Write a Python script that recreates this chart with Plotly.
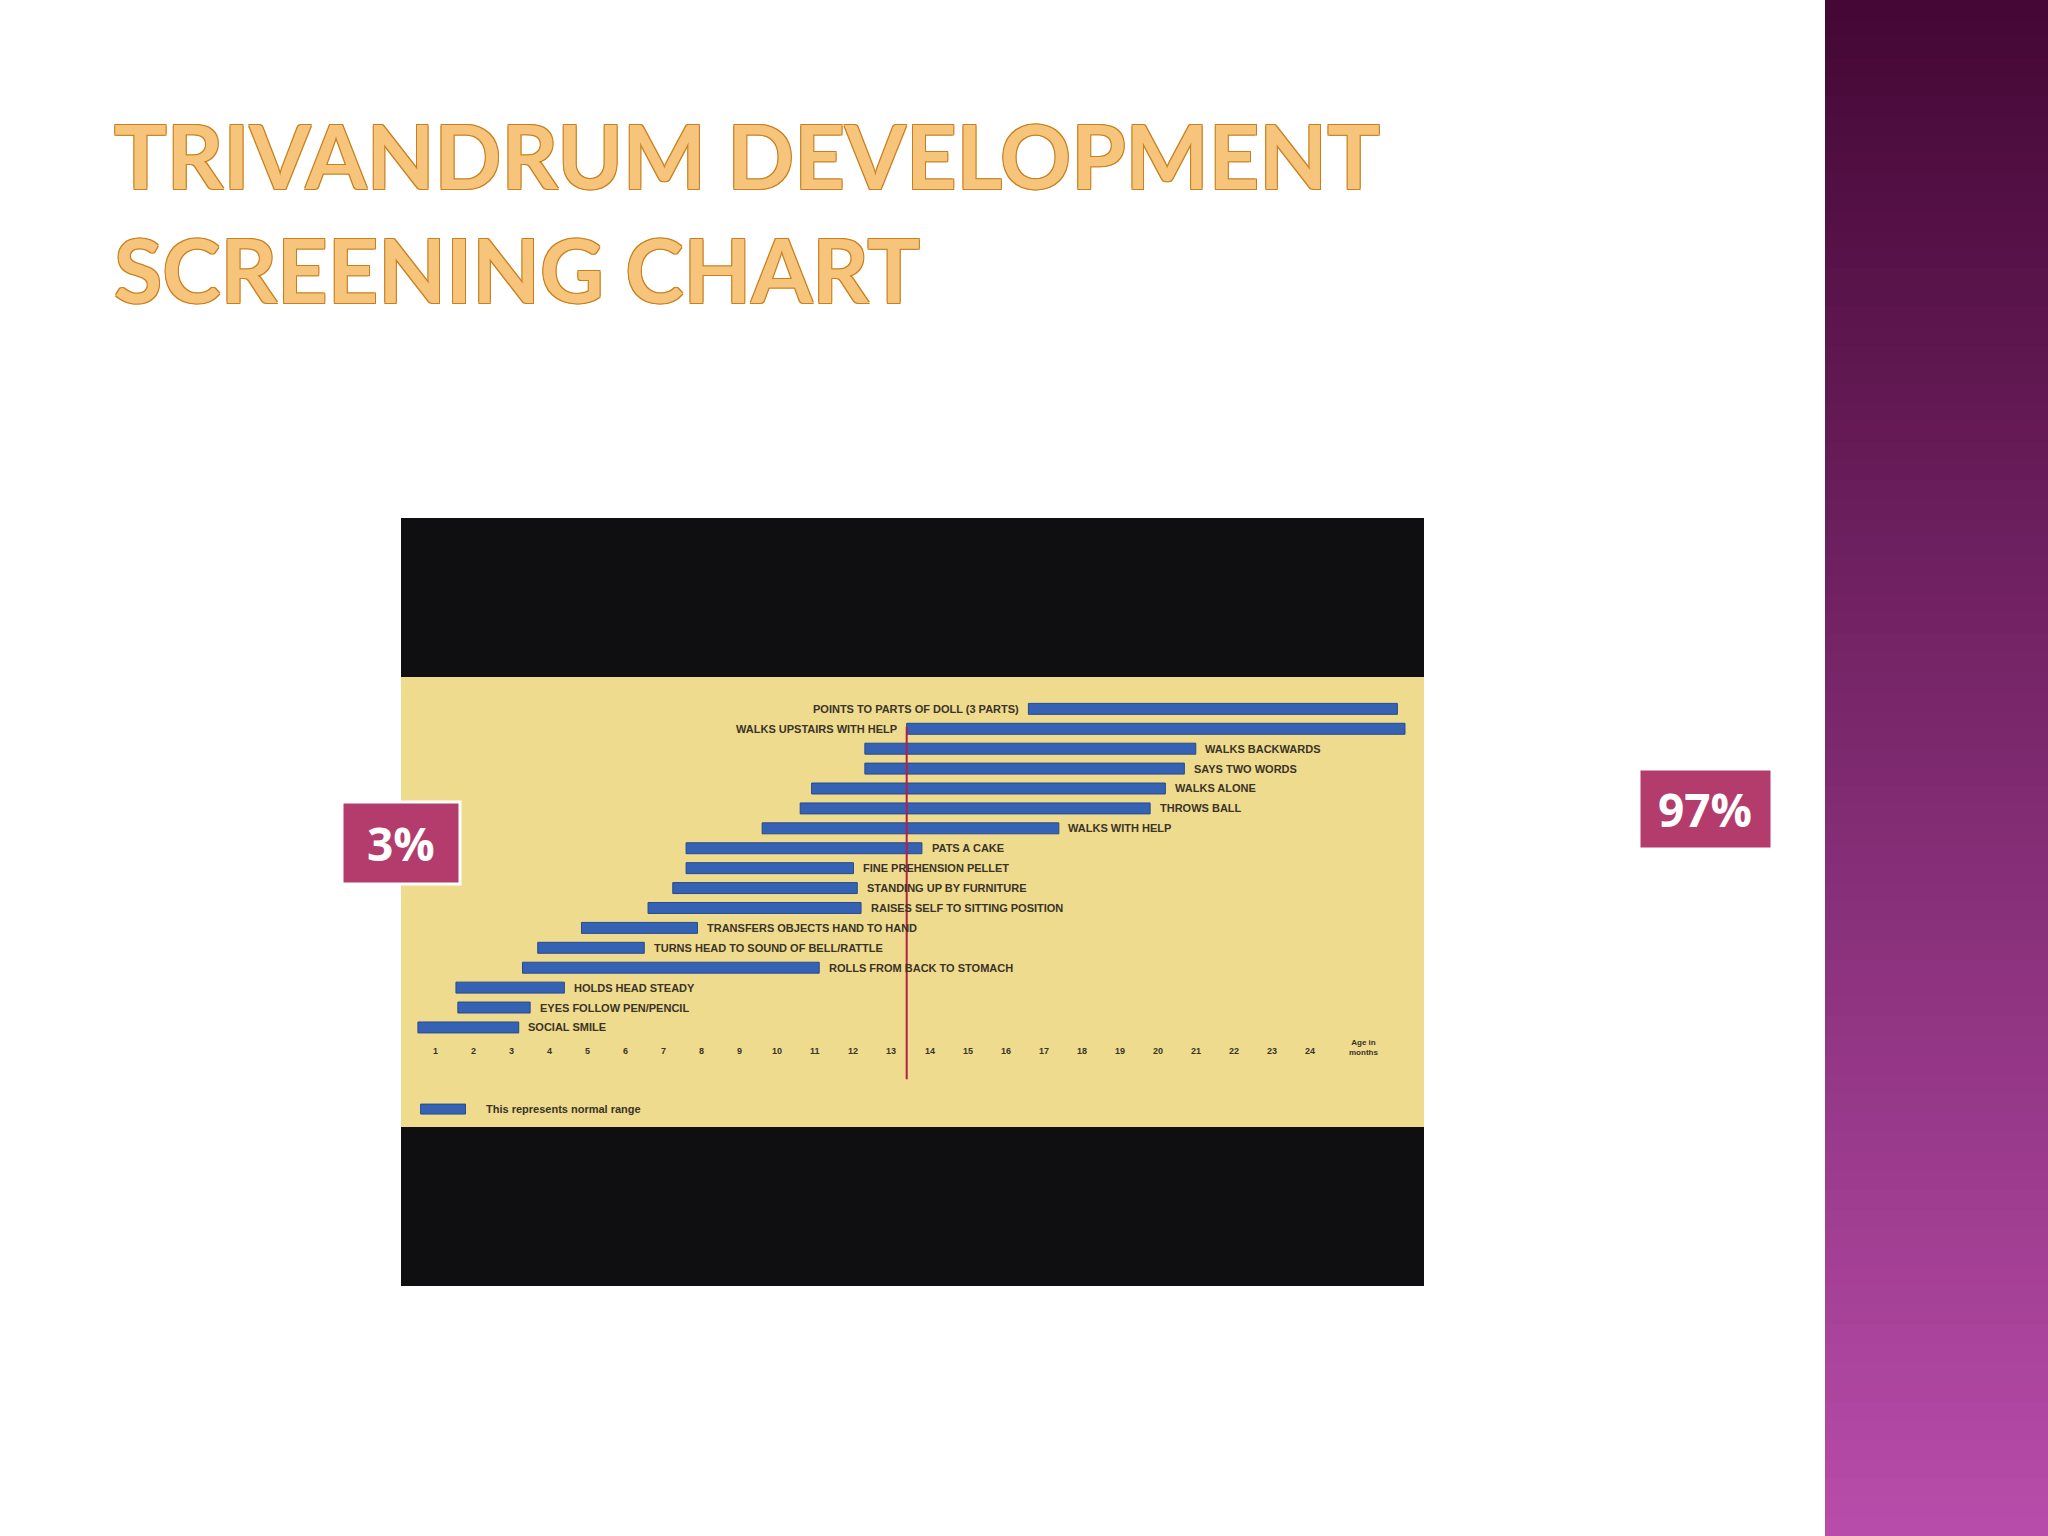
import plotly.graph_objects as go

W, H = 2048, 1536
milestones = ["POINTS TO PARTS OF DOLL (3 PARTS)", "WALKS UPSTAIRS WITH HELP", "WALKS BACKWARDS",
              "SAYS TWO WORDS", "WALKS ALONE", "THROWS BALL", "WALKS WITH HELP", "PATS A CAKE",
              "FINE PREHENSION PELLET", "STANDING UP BY FURNITURE", "RAISES SELF TO SITTING POSITION",
              "TRANSFERS OBJECTS HAND TO HAND", "TURNS HEAD TO SOUND OF BELL/RATTLE",
              "ROLLS FROM BACK TO STOMACH", "HOLDS HEAD STEADY", "EYES FOLLOW PEN/PENCIL", "SOCIAL SMILE"]
start_m = [16.6, 13.4, 12.3, 12.3, 10.9, 10.6, 9.6, 7.6, 7.6, 7.25, 6.6, 4.85, 3.7, 3.3, 1.55, 1.6, 0.55]
end_m = [26.3, 26.5, 21.0, 20.7, 20.2, 19.8, 17.4, 13.8, 12.0, 12.1, 12.2, 7.9, 6.5, 11.1, 4.4, 3.5, 3.2]
label_left = [True, True] + [False] * 15
month_ticks = [str(i) for i in range(1, 25)]
cut_off_month = 13.4
pct_labels = ["3%", "97%"]

def px(x): return x / W
def py(y): return 1 - y / H

fig = go.Figure()
fig.add_trace(go.Bar(
    y=milestones, x=[e - s for s, e in zip(start_m, end_m)], base=start_m, orientation="h",
    width=0.55, marker=dict(color="#3662b3", line=dict(color="#244a91", width=1)),
    showlegend=False, hoverinfo="skip"))
fig.add_trace(go.Scatter(x=[cut_off_month, cut_off_month], y=[0.9, 18.6], mode="lines",
                         line=dict(color="#b0204a", width=2), showlegend=False, yaxis="y2"))

ann = []
lf = dict(family="Liberation Sans Narrow, Arial Narrow, Liberation Sans", size=11, color="#3a3428", weight="bold")
for m, s, e, left in zip(milestones, start_m, end_m, label_left):
    if left:
        ann.append(dict(x=s - 0.2, y=m, text=m, xanchor="right", showarrow=False, font=lf))
    else:
        ann.append(dict(x=e + 0.2, y=m, text=m, xanchor="left", showarrow=False, font=lf))
for i, t in enumerate(month_ticks):
    ann.append(dict(x=i + 1, y=17.2, yref="y2", text=t, showarrow=False, font=dict(lf, size=9)))
ann.append(dict(x=25.4, y=17.0, yref="y2", text="Age in<br>months", showarrow=False, font=dict(lf, size=8)))
ann.append(dict(x=2.3, y=20.1, yref="y2", text="This represents normal range", xanchor="left",
                showarrow=False, font=lf))
ann.append(dict(x=px(112), y=py(100), xref="paper", yref="paper", xanchor="left", yanchor="top", align="left",
                text="TRIVANDRUM DEVELOPMENT<br>SCREENING CHART", showarrow=False,
                font=dict(family="Lato", size=88, color="#f7c47c", weight="bold",
                          shadow="1px 1px 0px #c8801e, -1px -1px 0px #c8801e, 1px -1px 0px #c8801e, -1px 1px 0px #c8801e")))
ann.append(dict(x=px(401), y=py(843), xref="paper", yref="paper", xanchor="center", yanchor="middle",
                text=pct_labels[0], showarrow=False,
                font=dict(family="Open Sans", size=46, color="white", weight="bold")))
ann.append(dict(x=px(1705), y=py(809), xref="paper", yref="paper", xanchor="center", yanchor="middle",
                text=pct_labels[1], showarrow=False,
                font=dict(family="Open Sans", size=46, color="white", weight="bold")))

shapes = []
n = 80
c0, c1 = (0x45, 0x08, 0x36), (0xb8, 0x4c, 0xaa)
for i in range(n):
    t = i / (n - 1)
    col = "rgb(%d,%d,%d)" % tuple(int(a + (b - a) * t) for a, b in zip(c0, c1))
    shapes.append(dict(type="rect", xref="paper", yref="paper", x0=px(1825), x1=1,
                       y0=py(H * (i + 1) / n), y1=py(H * i / n) + 0.0005, fillcolor=col, line_width=0, layer="below"))
shapes.append(dict(type="rect", xref="paper", yref="paper", x0=px(401), x1=px(1424), y0=py(518), y1=py(1286),
                   fillcolor="#0f0e10", line_width=0, layer="below"))
shapes.append(dict(type="rect", xref="paper", yref="paper", x0=px(401), x1=px(1424), y0=py(677), y1=py(1127),
                   fillcolor="#eedb8e", line_width=0, layer="below"))
shapes.append(dict(type="rect", x0=0.62, x1=1.8, y0=19.85, y1=20.35, yref="y2",
                   fillcolor="#3662b3", line=dict(color="#244a91", width=1)))
shapes.append(dict(type="rect", xref="paper", yref="paper", x0=px(342), x1=px(460), y0=py(802), y1=py(884),
                   fillcolor="#b33c6c", line=dict(color="white", width=3)))
shapes.append(dict(type="rect", xref="paper", yref="paper", x0=px(1639), x1=px(1772), y0=py(769), y1=py(849),
                   fillcolor="#b33c6c", line=dict(color="white", width=3)))

yr = [21.0, -1.6]
fig.update_layout(
    width=W, height=H, margin=dict(l=0, r=0, t=0, b=0), paper_bgcolor="white", plot_bgcolor="rgba(0,0,0,0)",
    xaxis=dict(domain=[px(401), px(1424)], range=[0.105, 27.0], visible=False),
    yaxis=dict(domain=[py(1127), py(677)], range=yr, visible=False, categoryorder="array", categoryarray=milestones),
    yaxis2=dict(domain=[py(1127), py(677)], range=yr, visible=False, overlaying="y"),
    annotations=ann, shapes=shapes, bargap=0.45)
fig.write_html("out.html", config={"displayModeBar": False}, post_script="document.body.style.margin='0';")
